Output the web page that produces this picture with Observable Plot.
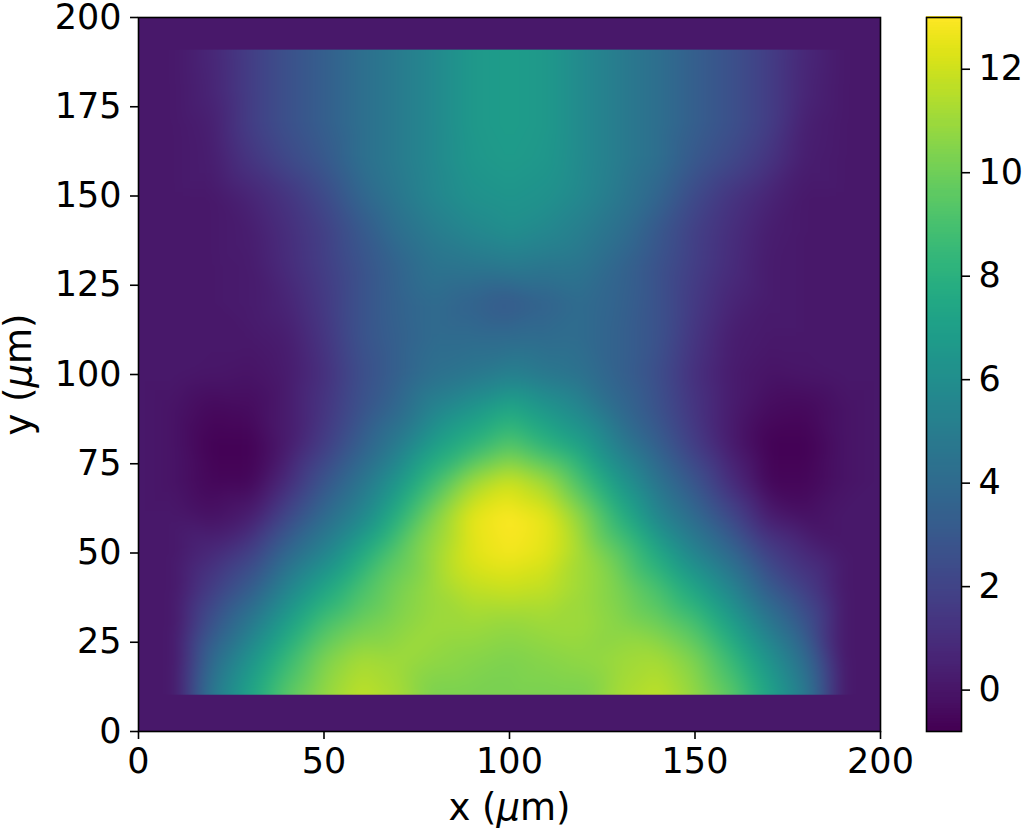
<!DOCTYPE html>
<html><head><meta charset="utf-8">
<script src="https://cdn.jsdelivr.net/npm/d3@7"></script>
<script src="https://cdn.jsdelivr.net/npm/@observablehq/plot@0.6"></script>
<style>html,body{margin:0;padding:0;background:#fff}#c{position:relative;width:1025px;height:833px;overflow:hidden}#c svg{position:absolute;top:0;left:0;background:transparent}</style>
</head><body><div id="c"></div>
<script>
const xColumns=[0,10,20,30,40,50,60,70,80,90,100,110,120,130,140,150,160,170,180,190,200];
const yRows=[191,180,170,160,150,140,130,120,110,100,90,80,70,60,50,40,30,20,10];
const grid=[
[.1,.1,.7,1.7,2.6,3.3,4.2,4.9,5.7,6.6,6.8,6.6,5.7,4.9,4.2,3.3,2.6,1.7,.7,.1,.1],
[.1,.1,.6,1.7,2.6,3.3,4.2,4.9,5.7,6.6,6.8,6.6,5.7,4.9,4.2,3.3,2.6,1.7,.6,.1,.1],
[.1,.1,.4,1.7,2.6,3.3,4.2,4.9,5.7,6.6,6.8,6.6,5.7,4.9,4.2,3.3,2.6,1.7,.4,.1,.1],
[.1,.1,.3,1.3,2.2,3.0,4.2,4.9,5.7,6.5,6.7,6.5,5.7,4.9,4.2,3.0,2.2,1.3,.3,.1,.1],
[.1,.1,.1,.6,1.3,2.3,3.7,4.7,5.6,6.2,6.4,6.2,5.6,4.7,3.7,2.3,1.3,.6,.1,.1,.1],
[.1,.1,.1,.3,1.0,1.8,3.0,4.2,5.0,5.6,6.0,5.6,5.0,4.2,3.0,1.8,1.0,.3,.1,.1,.1],
[.1,.1,.1,.2,.9,1.7,2.7,3.6,4.5,4.6,4.8,4.6,4.5,3.6,2.7,1.7,.9,.2,.1,.1,.1],
[.1,.1,.1,.2,.6,1.5,2.7,3.5,4,3.5,3.0,3.5,4,3.5,2.7,1.5,.6,.2,.1,.1,.1],
[.1,.1,.1,.1,.3,1.3,2.7,3.4,4,4,4,4,4,3.4,2.7,1.3,.3,.1,.1,.1,.1],
[.1,.1,0,-.1,.2,1.1,2.5,3.4,4.3,4.7,5.2,4.7,4.3,3.4,2.5,1.1,.2,-.1,0,.1,.1],
[.1,-.1,-.5,-.4,.2,1.3,2.7,3.9,5.5,6.5,7.5,6.5,5.5,3.9,2.7,1.3,.2,-.4,-.5,-.1,.1],
[.1,-.1,-.75,-.75,.2,1.7,3.4,5,7,8.2,9.4,8.2,7,5,3.4,1.7,.2,-.75,-.75,-.1,.1],
[.1,-.1,-.6,-.6,.9,2.8,4.5,6.5,8.8,11,12,11,8.8,6.5,4.5,2.8,.9,-.6,-.6,-.1,.1],
[.1,.1,-.2,.3,2.2,4,5.6,8,10.5,12.5,13,12.5,10.5,8,5.6,4,2.2,.3,-.2,.1,.1],
[.1,.1,.8,1.8,3.8,5.4,7.5,9.5,11,12.4,12.8,12.4,11,9.5,7.5,5.4,3.8,1.8,.8,.1,.1],
[.1,.1,1.7,3.2,5.4,7.3,9,10.2,11,11.7,11.9,11.7,11,10.2,9,7.3,5.4,3.2,1.7,.1,.1],
[.1,.1,2.8,4.8,7,9,10,10.5,11,11,10.8,11,11,10.5,10,9,7,4.8,2.8,.1,.1],
[.1,.1,4,6.3,8.5,10.3,11.2,11,10.7,10.5,10.3,10.5,10.7,11,11.2,10.3,8.5,6.3,4,.1,.1],
[.1,.1,4.8,7.3,9.5,10.8,11.7,11.2,10.2,10.2,10.2,10.2,10.2,11.2,11.7,10.8,9.5,7.3,4.8,.1,.1]
];
const backgroundLevel=[0.1];
const xTicks=[0,50,100,150,200];
const yTicks=[0,25,50,75,100,125,150,175,200];
const barTicks=[0,2,4,6,8,10,12];
const colorDomain=[-0.8,13];
const barLevels=d3.range(-0.8,13,0.05);

const cells=yRows.flatMap((y,i)=>xColumns.map((x,j)=>({x,y,v:grid[i][j]})));
const font="DejaVu Sans";
const color={type:"linear",scheme:"viridis",domain:colorDomain};

const main=Plot.plot({
  width:1025,height:833,marginLeft:138,marginRight:145,marginTop:17,marginBottom:102,
  style:{fontFamily:font,fontSize:"36px",background:"transparent",color:"#000"},
  x:{domain:[0,200]},y:{domain:[0,200]},color,
  marks:[
    Plot.rect(backgroundLevel,{x1:0,x2:200,y1:0,y2:200,fill:d=>d}),
    Plot.raster(cells,{x:"x",y:"y",fill:"v",x1:0,x2:200,y1:10.3,y2:191,interpolate:"barycentric",blur:8}),
    Plot.frame({stroke:"#000",strokeWidth:1.6,strokeOpacity:1}),
    Plot.axisX({ticks:xTicks,tickSize:8,tickPadding:9,strokeWidth:1.6,fontSize:35,label:"x (μm)",labelAnchor:"center",labelArrow:"none",labelOffset:88,tickFormat:d=>String(d)}),
    Plot.axisY({ticks:yTicks,tickSize:8,tickPadding:9,strokeWidth:1.6,fontSize:35,label:"y (μm)",labelAnchor:"center",labelArrow:"none",labelOffset:134,tickFormat:d=>String(d)})
  ]
});
const bar=Plot.plot({
  width:1025,height:833,marginLeft:926,marginRight:64,marginTop:17,marginBottom:102,
  style:{fontFamily:font,fontSize:"36px",background:"transparent",color:"#000"},
  x:{domain:[0,1],axis:null},y:{domain:colorDomain},color,
  marks:[
    Plot.rect(barLevels,{x1:0,x2:1,y1:d=>d,y2:d=>d+0.07,fill:d=>d,shapeRendering:"crispEdges"}),
    Plot.frame({stroke:"#000",strokeWidth:1.6,strokeOpacity:1}),
    Plot.axisY({anchor:"right",ticks:barTicks,tickSize:8,tickPadding:9,strokeWidth:1.6,fontSize:35,label:null,tickFormat:d=>String(d)})
  ]
});
const host=document.getElementById("c");
host.append(main,bar);
d3.selectAll("#c text").each(function(){
  const s=this.textContent;
  if(s.includes("μ")){
    const t=d3.select(this).attr("font-size",37);
    const target=this.querySelector("tspan")?d3.select(this.querySelector("tspan")):t;
    target.text(null);
    const [a,b]=s.split("μ");
    target.append("tspan").text(a);
    target.append("tspan").attr("font-style","italic").text("μ");
    target.append("tspan").text(b);
  }
});
</script></body></html>
